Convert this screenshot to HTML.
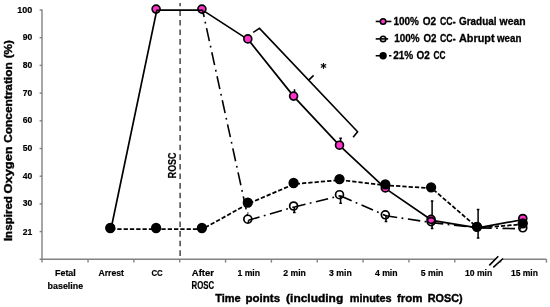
<!DOCTYPE html>
<html><head><meta charset="utf-8"><title>Inspired Oxygen Concentration</title>
<style>
html,body{margin:0;padding:0;background:#fff;}
body{width:550px;height:307px;overflow:hidden;}
svg{display:block;}
text{font-family:"Liberation Sans",sans-serif;font-weight:bold;fill:#000;stroke:#000;stroke-width:0.2px;}
.tk{font-size:9.4px;}
.ti{font-size:11.5px;stroke-width:0.4px;}
.lg{font-size:10.6px;stroke:#000;stroke-width:0.3px;}
</style></head><body>
<svg width="550" height="307" viewBox="0 0 550 307">
<rect width="550" height="307" fill="#fff"/>
<g stroke="#828282" stroke-width="1.4" fill="none">
<line x1="42.0" y1="9.4" x2="42.0" y2="262.6"/>
<line x1="39.6" y1="259.3" x2="546.44" y2="259.3"/>
<line x1="39.6" y1="10.00" x2="42.2" y2="10.00"/>
<line x1="39.6" y1="37.70" x2="42.2" y2="37.70"/>
<line x1="39.6" y1="65.40" x2="42.2" y2="65.40"/>
<line x1="39.6" y1="93.10" x2="42.2" y2="93.10"/>
<line x1="39.6" y1="120.80" x2="42.2" y2="120.80"/>
<line x1="39.6" y1="148.50" x2="42.2" y2="148.50"/>
<line x1="39.6" y1="176.20" x2="42.2" y2="176.20"/>
<line x1="39.6" y1="203.90" x2="42.2" y2="203.90"/>
<line x1="39.6" y1="231.60" x2="42.2" y2="231.60"/>
<line x1="88.04" y1="259.3" x2="88.04" y2="262.6"/>
<line x1="133.88" y1="259.3" x2="133.88" y2="262.6"/>
<line x1="179.72" y1="259.3" x2="179.72" y2="262.6"/>
<line x1="225.56" y1="259.3" x2="225.56" y2="262.6"/>
<line x1="271.40" y1="259.3" x2="271.40" y2="262.6"/>
<line x1="317.24" y1="259.3" x2="317.24" y2="262.6"/>
<line x1="363.08" y1="259.3" x2="363.08" y2="262.6"/>
<line x1="408.92" y1="259.3" x2="408.92" y2="262.6"/>
<line x1="454.76" y1="259.3" x2="454.76" y2="262.6"/>
<line x1="500.60" y1="259.3" x2="500.60" y2="262.6"/>
<line x1="546.44" y1="259.3" x2="546.44" y2="262.6"/>
</g>
<text class="tk" transform="translate(17.30,12.50) scale(0.9581,1)">100</text>
<text class="tk" transform="translate(22.80,40.20) scale(0.9102,1)">90</text>
<text class="tk" transform="translate(22.80,67.90) scale(0.9102,1)">80</text>
<text class="tk" transform="translate(22.80,95.60) scale(0.9102,1)">70</text>
<text class="tk" transform="translate(22.80,123.30) scale(0.9102,1)">60</text>
<text class="tk" transform="translate(22.80,151.00) scale(0.9102,1)">50</text>
<text class="tk" transform="translate(22.80,178.70) scale(0.9102,1)">40</text>
<text class="tk" transform="translate(22.80,206.40) scale(0.9102,1)">30</text>
<text class="tk" transform="translate(22.80,235.00) scale(0.9102,1)">21</text>
<text class="tk" transform="translate(54.97,276.30) scale(0.9502,1)">Fetal</text>
<text class="tk" transform="translate(47.62,289.00) scale(0.9459,1)">baseline</text>
<text class="tk" transform="translate(98.46,276.30) scale(0.9231,1)">Arrest</text>
<text class="tk" transform="translate(151.40,276.30) scale(0.8341,1)">CC</text>
<text class="tk" transform="translate(191.79,276.30) scale(1.0141,1)">After</text>
<text class="tk" transform="translate(191.59,289.00) scale(0.7818,1)" style="font-size:10.0px">ROSC</text>
<text class="tk" transform="translate(237.43,276.30) scale(0.9224,1)">1 min</text>
<text class="tk" transform="translate(283.27,276.30) scale(0.9224,1)">2 min</text>
<text class="tk" transform="translate(329.11,276.30) scale(0.9224,1)">3 min</text>
<text class="tk" transform="translate(374.95,276.30) scale(0.9224,1)">4 min</text>
<text class="tk" transform="translate(420.79,276.30) scale(0.9224,1)">5 min</text>
<text class="tk" transform="translate(464.93,276.30) scale(0.9191,1)">10 min</text>
<text class="tk" transform="translate(510.92,276.30) scale(0.9090,1)">15 min</text>
<text class="ti" transform="translate(215.20,302.00) scale(0.9572,1)">Time</text>
<text class="ti" transform="translate(245.50,302.00) scale(1.0058,1)">points</text>
<text class="ti" transform="translate(286.10,302.00) scale(1.0412,1)">(including</text>
<text class="ti" transform="translate(349.70,302.00) scale(0.9525,1)">minutes</text>
<text class="ti" transform="translate(396.90,302.00) scale(1.0015,1)">from</text>
<text class="ti" transform="translate(427.70,302.00) scale(0.9444,1)">ROSC)</text>
<text class="ti" transform="translate(12.00,241.10) rotate(-90) scale(1.0082,1)">Inspired</text>
<text class="ti" transform="translate(12.00,193.50) rotate(-90) scale(1.1188,1)">Oxygen</text>
<text class="ti" transform="translate(12.00,142.70) rotate(-90) scale(1.0314,1)">Concentration</text>
<text class="ti" transform="translate(12.00,58.30) rotate(-90) scale(1.0229,1)">(%)</text>
<line x1="180.1" y1="3" x2="180.1" y2="259.3" stroke="#303030" stroke-width="1.35" stroke-dasharray="5.6 4" stroke-dashoffset="2.3"/>
<text class="tk" transform="translate(175.60,178.20) rotate(-90) scale(0.8204,1)" style="font-size:10.8px">ROSC</text>
<g stroke="#000" stroke-width="1.5" fill="none">
<path d="M432.1 200.9V228.4M430.8 200.9H433.4M430.8 228.4H433.4"/>
<path d="M478.1 209.5V238.1M476.8 209.5H479.4M476.8 238.1H479.4"/>
<path d="M248.5 220.2V223.0"/>
<path d="M247.9 212.4V213.4"/>
<path d="M294.3 207.0V212.6M293.0 212.6H295.6"/>
<path d="M340.6 195.7V203.2M339.3 203.2H341.9"/>
<path d="M386.0 215.8V221.5M384.7 221.5H387.3"/>
<path d="M340.6 138.3V146.0M339.3 138.3H341.9M339.3 146.0H341.9"/>
<path d="M294.5 89.9V97.0M293.7 89.9H295.3M293.7 97.0H295.3"/>
</g>
<line x1="202.6" y1="10.1" x2="248.5" y2="220.2" stroke="#000" stroke-width="1.6" stroke-dasharray="13.2 4.8 1.8 4.8" stroke-dashoffset="6.1"/>
<line x1="248.5" y1="220.2" x2="294.3" y2="207.0" stroke="#000" stroke-width="1.6" stroke-dasharray="12.5 4.4 1.8 4.6" stroke-dashoffset="1.0"/>
<line x1="294.3" y1="207.0" x2="340.2" y2="195.7" stroke="#000" stroke-width="1.6" stroke-dasharray="12.5 4.4 1.8 4.6" stroke-dashoffset="1.0"/>
<line x1="340.2" y1="195.7" x2="386.0" y2="215.8" stroke="#000" stroke-width="1.6" stroke-dasharray="12.5 4.4 1.8 4.6" stroke-dashoffset="0.0"/>
<line x1="386.0" y1="215.8" x2="431.8" y2="222.6" stroke="#000" stroke-width="1.6" stroke-dasharray="12.5 4.4 1.8 4.6" stroke-dashoffset="1.2"/>
<line x1="431.8" y1="222.6" x2="477.7" y2="227.8" stroke="#000" stroke-width="1.6" stroke-dasharray="12.5 4.4 1.8 4.6" stroke-dashoffset="1.0"/>
<line x1="477.7" y1="227.8" x2="523.5" y2="228.8" stroke="#000" stroke-width="1.6" stroke-dasharray="12.5 4.4 1.8 4.6" stroke-dashoffset="-1.5"/>
<polyline points="111.0,229.0 156.8,229.0 202.6,229.0 248.5,203.6 294.3,184.0 340.2,180.1 386.0,185.3 431.8,188.3 477.7,227.8 523.5,224.3" fill="none" stroke="#000" stroke-width="1.75" stroke-dasharray="4.3 2"/>
<polyline points="111.0,229.0 156.8,10.1 202.6,10.1 248.5,39.9 294.3,97.1 340.2,146.2 386.0,188.9 431.8,220.3 477.7,227.8 523.5,219.5" fill="none" stroke="#000" stroke-width="1.7" stroke-linejoin="round"/>
<circle cx="110.3" cy="228.0" r="3.95" fill="#ff33cc" stroke="#000" stroke-width="1.7"/>
<circle cx="156.1" cy="9.1" r="3.95" fill="#ff33cc" stroke="#000" stroke-width="1.7"/>
<circle cx="201.9" cy="9.1" r="3.95" fill="#ff33cc" stroke="#000" stroke-width="1.7"/>
<circle cx="247.8" cy="38.9" r="3.95" fill="#ff33cc" stroke="#000" stroke-width="1.7"/>
<circle cx="293.6" cy="96.1" r="3.95" fill="#ff33cc" stroke="#000" stroke-width="1.7"/>
<circle cx="339.5" cy="145.2" r="3.95" fill="#ff33cc" stroke="#000" stroke-width="1.7"/>
<circle cx="385.3" cy="187.9" r="3.95" fill="#ff33cc" stroke="#000" stroke-width="1.7"/>
<circle cx="431.1" cy="219.3" r="3.95" fill="#ff33cc" stroke="#000" stroke-width="1.7"/>
<circle cx="477.0" cy="226.8" r="3.95" fill="#ff33cc" stroke="#000" stroke-width="1.7"/>
<circle cx="522.8" cy="218.5" r="3.95" fill="#ff33cc" stroke="#000" stroke-width="1.7"/>
<path d="M155.9 13.6L156.8 10.2H161M197.6 10.2H202.6L203.6 14.6" fill="none" stroke="#000" stroke-width="1.5"/>
<circle cx="247.8" cy="219.2" r="3.95" fill="none" stroke="#000" stroke-width="1.7"/>
<circle cx="293.6" cy="206.0" r="3.95" fill="none" stroke="#000" stroke-width="1.7"/>
<circle cx="339.5" cy="194.7" r="3.95" fill="none" stroke="#000" stroke-width="1.7"/>
<circle cx="385.3" cy="214.8" r="3.95" fill="none" stroke="#000" stroke-width="1.7"/>
<circle cx="431.1" cy="221.6" r="3.95" fill="none" stroke="#000" stroke-width="1.7"/>
<circle cx="477.0" cy="226.8" r="3.95" fill="none" stroke="#000" stroke-width="1.7"/>
<circle cx="522.8" cy="227.8" r="3.95" fill="none" stroke="#000" stroke-width="1.7"/>
<circle cx="110.3" cy="228.0" r="4.3" fill="#000" stroke="#000" stroke-width="1.7"/>
<circle cx="156.1" cy="228.0" r="4.3" fill="#000" stroke="#000" stroke-width="1.7"/>
<circle cx="201.9" cy="228.0" r="4.3" fill="#000" stroke="#000" stroke-width="1.7"/>
<circle cx="247.8" cy="202.6" r="4.3" fill="#000" stroke="#000" stroke-width="1.7"/>
<circle cx="293.6" cy="183.0" r="4.3" fill="#000" stroke="#000" stroke-width="1.7"/>
<circle cx="339.5" cy="179.1" r="4.3" fill="#000" stroke="#000" stroke-width="1.7"/>
<circle cx="385.3" cy="184.3" r="4.3" fill="#000" stroke="#000" stroke-width="1.7"/>
<circle cx="431.1" cy="187.3" r="4.3" fill="#000" stroke="#000" stroke-width="1.7"/>
<circle cx="477.0" cy="226.8" r="4.3" fill="#000" stroke="#000" stroke-width="1.7"/>
<circle cx="522.8" cy="223.3" r="4.3" fill="#000" stroke="#000" stroke-width="1.7"/>
<path d="M253.2 32.4L259.5 28.4L357.6 131.7L353.1 137.2" fill="none" stroke="#000" stroke-width="1.6"/>
<path d="M309 79.8L313.6 75.4" fill="none" stroke="#000" stroke-width="1.6"/>
<text x="323.4" y="71.9" text-anchor="middle" style="font-family:&quot;DejaVu Sans&quot;,sans-serif;font-size:11.5px">*</text>
<path d="M489.3 265.4L498.3 256.3L503 258.5L493.3 267.4Z" fill="#fff" stroke="none"/>
<path d="M489.3 265.4L498.3 256.3M493.3 267.4L503 258.5" fill="none" stroke="#000" stroke-width="1.6"/>
<line x1="375.7" y1="21.45" x2="391.4" y2="21.45" stroke="#000" stroke-width="1.6"/>
<circle cx="383.1" cy="21.45" r="2.75" fill="#ff33cc" stroke="#000" stroke-width="1.6"/>
<text class="lg" transform="translate(393.50,24.60) scale(0.9406,1)">100%</text>
<text class="lg" transform="translate(422.80,24.60) scale(0.9476,1)">O2</text>
<text class="lg" transform="translate(440.00,24.60) scale(0.8279,1)">CC-</text>
<text class="lg" transform="translate(459.00,24.60) scale(0.9389,1)">Gradual</text>
<text class="lg" transform="translate(499.60,24.60) scale(0.9811,1)">wean</text>
<line x1="375.7" y1="38.9" x2="391.4" y2="38.9" stroke="#000" stroke-width="1.6" stroke-dasharray="12.5 4.4 1.8 4.6"/>
<circle cx="383.1" cy="38.9" r="2.7" fill="none" stroke="#000" stroke-width="1.6"/>
<text class="lg" transform="translate(394.20,41.80) scale(0.9369,1)">100%</text>
<text class="lg" transform="translate(423.50,41.80) scale(0.9193,1)">O2</text>
<text class="lg" transform="translate(440.00,41.80) scale(0.8279,1)">CC-</text>
<text class="lg" transform="translate(459.00,41.80) scale(1.0254,1)">Abrupt</text>
<text class="lg" transform="translate(497.00,41.80) scale(0.9208,1)">wean</text>
<line x1="375.7" y1="55.8" x2="391.4" y2="55.8" stroke="#000" stroke-width="1.6" stroke-dasharray="9.6 3.7 3 9"/>
<circle cx="383.1" cy="55.8" r="2.9" fill="#000" stroke="#000" stroke-width="1.6"/>
<text class="lg" transform="translate(393.20,59.00) scale(0.9480,1)">21%</text>
<text class="lg" transform="translate(416.50,59.00) scale(0.9406,1)">O2</text>
<text class="lg" transform="translate(433.60,59.00) scale(0.7837,1)">CC</text>
</svg></body></html>
